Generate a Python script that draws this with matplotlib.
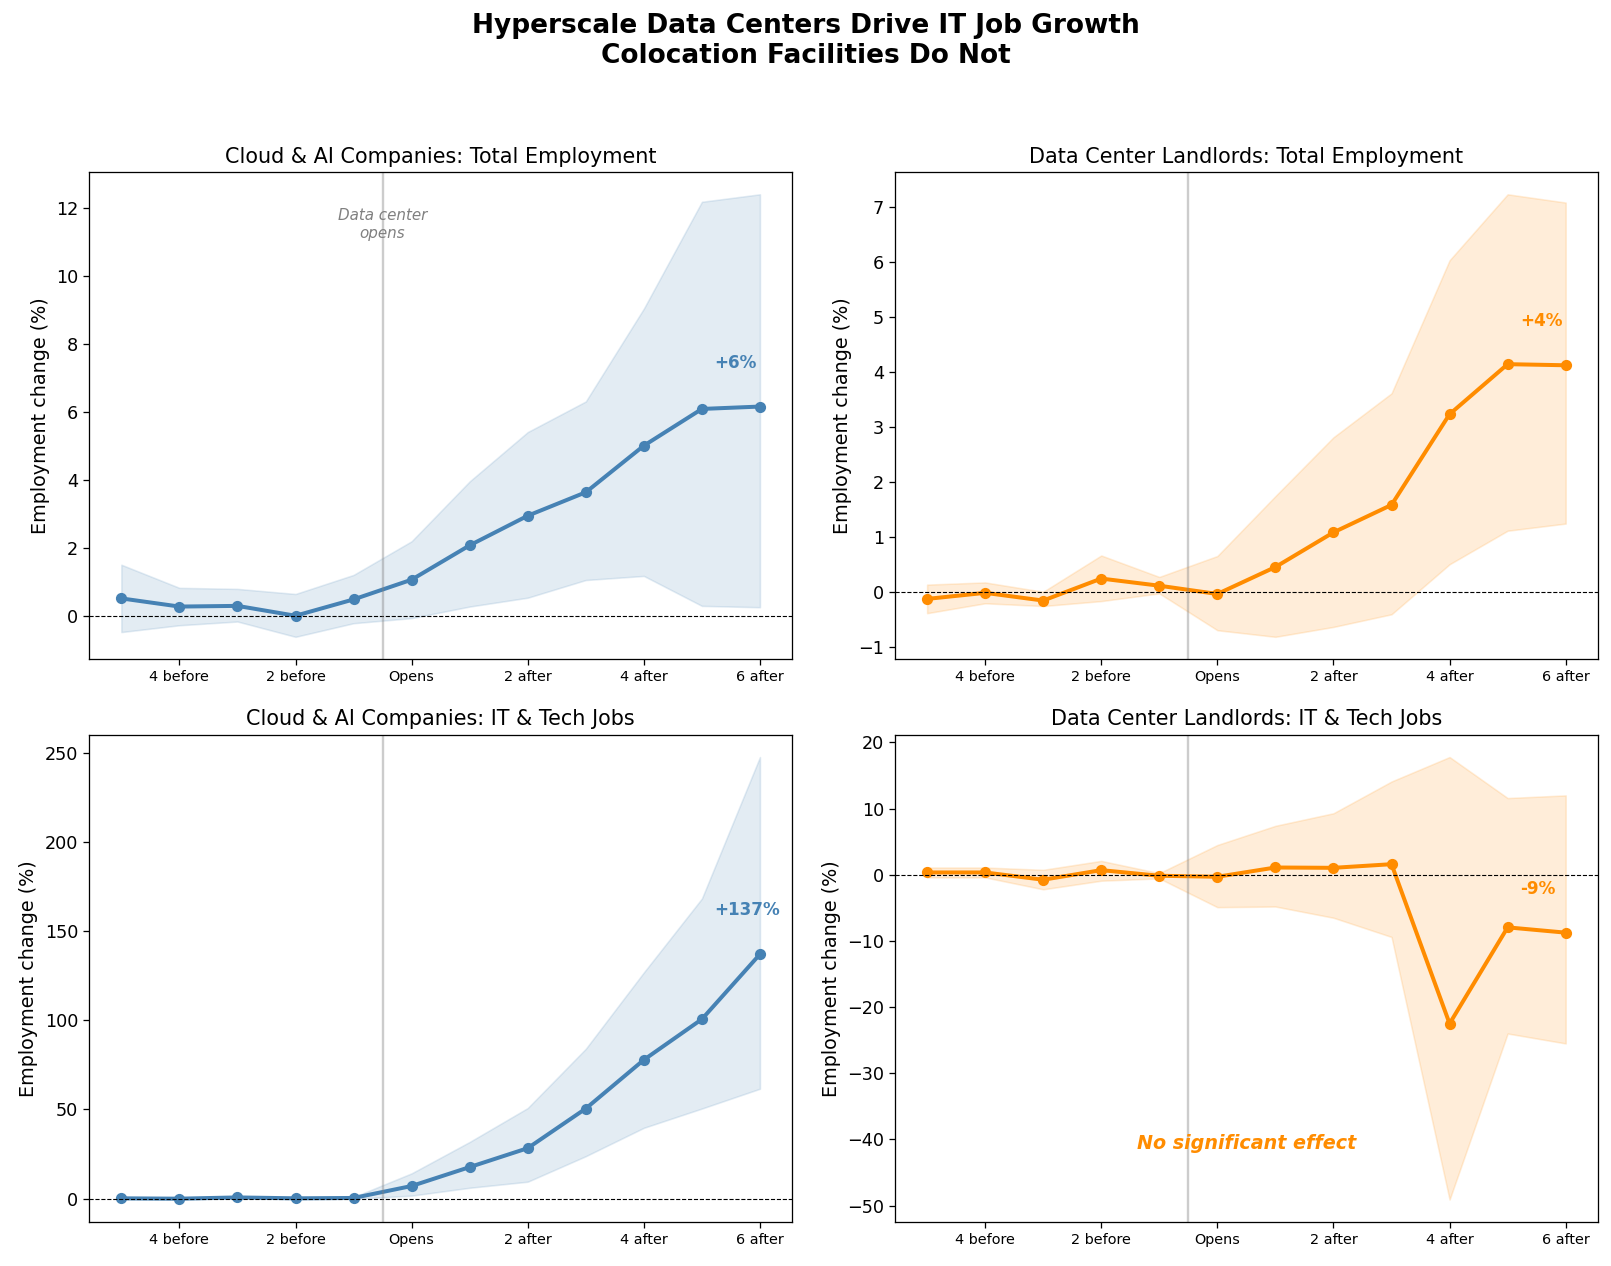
import numpy as np
import matplotlib
matplotlib.use("Agg")
import matplotlib.pyplot as plt

# Event time (years relative to opening)
event_time = [-5, -4, -3, -2, -1, 0, 1, 2, 3, 4, 5, 6]
tick_pos = [-4, -2, 0, 2, 4, 6]
tick_labels = ["4 before", "2 before", "Opens", "2 after", "4 after", "6 after"]

# Cloud & AI companies: total employment
cloud_total = [0.51, 0.27, 0.29, 0.0, 0.48, 1.06, 2.07, 2.94, 3.63, 5.0, 6.08, 6.15]
cloud_total_hi = [1.5, 0.82, 0.79, 0.64, 1.2, 2.19, 3.95, 5.4, 6.3, 9.03, 12.17, 12.39]
cloud_total_lo = [-0.48, -0.28, -0.17, -0.62, -0.22, -0.07, 0.27, 0.53, 1.05, 1.17, 0.29, 0.25]

# Data center landlords: total employment
land_total = [-0.13, -0.02, -0.16, 0.24, 0.11, -0.04, 0.45, 1.08, 1.58, 3.23, 4.14, 4.12]
land_total_hi = [0.13, 0.17, 0.0, 0.66, 0.27, 0.65, 1.74, 2.81, 3.61, 6.03, 7.23, 7.08]
land_total_lo = [-0.39, -0.21, -0.26, -0.17, -0.03, -0.7, -0.82, -0.64, -0.41, 0.5, 1.11, 1.24]

# Cloud & AI companies: IT & tech jobs
cloud_it = [0.2, 0.0, 0.7, 0.2, 0.4, 7.1, 17.7, 28.3, 50.5, 77.8, 100.6, 137.0]
cloud_it_hi = [0.8, 0.5, 1.3, 0.7, 0.9, 14.2, 31.8, 50.8, 84.0, 126.8, 168.2, 247.5]
cloud_it_lo = [-0.4, -0.5, 0.1, -0.3, -0.1, 1.7, 6.1, 9.5, 23.8, 39.7, 50.5, 61.6]

# Data center landlords: IT & tech jobs
land_it = [0.35, 0.35, -0.75, 0.7, -0.15, -0.3, 1.1, 1.05, 1.6, -22.5, -7.95, -8.75]
land_it_hi = [1.1, 1.1, 0.75, 2.1, 0.25, 4.5, 7.4, 9.3, 14.1, 17.8, 11.6, 12.0]
land_it_lo = [-0.4, -0.4, -2.2, -0.9, -0.55, -4.9, -4.8, -6.5, -9.4, -49.1, -24.0, -25.5]

titles = ["Cloud & AI Companies: Total Employment", "Data Center Landlords: Total Employment",
          "Cloud & AI Companies: IT & Tech Jobs", "Data Center Landlords: IT & Tech Jobs"]
labels = ["+6%", "+4%", "+137%", "-9%"]

BLUE = "#4682B4"
ORANGE = "#FF8C00"

panels = [
    (cloud_total, cloud_total_lo, cloud_total_hi, BLUE),
    (land_total, land_total_lo, land_total_hi, ORANGE),
    (cloud_it, cloud_it_lo, cloud_it_hi, BLUE),
    (land_it, land_it_lo, land_it_hi, ORANGE),
]

DPI = 115
fig, axes = plt.subplots(2, 2, figsize=(1611 / DPI, 1266 / DPI), dpi=DPI)
fig.subplots_adjust(left=0.0555, right=0.9917, top=0.864, bottom=0.035, wspace=0.147, hspace=0.156)

for i, ax in enumerate(axes.flat):
    y, lo, hi, c = panels[i]
    ax.fill_between(event_time, lo, hi, color=c, alpha=0.15)
    ax.plot(event_time, y, color=c, lw=2.5, marker="o", markersize=6)
    ax.axhline(0, color="black", lw=0.7, ls="--")
    ax.axvline(-0.5, color="gray", lw=1.5, alpha=0.4)
    ax.set_xticks(tick_pos)
    ax.set_xticklabels(tick_labels, fontsize=9)
    ax.tick_params(axis="y", labelsize=11)
    ax.set_ylabel("Employment change (%)", fontsize=12)
    ax.set_title(titles[i], fontsize=13)
    lo_, hi_ = ax.get_ylim()
    ax.text(5.22, y[-1] + 0.09 * (hi_ - lo_), labels[i], color=c, fontsize=10.5,
            fontweight="bold", ha="left", va="center")

axes[0, 0].text(-0.5, 11.5, "Data center\nopens", color="gray", fontsize=9.5,
                style="italic", ha="center", va="center")
axes[1, 1].text(0.5, 0.16, "No significant effect", transform=axes[1, 1].transAxes,
                color=ORANGE, fontsize=12, fontweight="bold", style="italic",
                ha="center", va="center")

fig.suptitle("Hyperscale Data Centers Drive IT Job Growth\nColocation Facilities Do Not",
             fontsize=16.5, fontweight="bold", y=0.99)

fig.savefig("out.png", dpi=DPI)
